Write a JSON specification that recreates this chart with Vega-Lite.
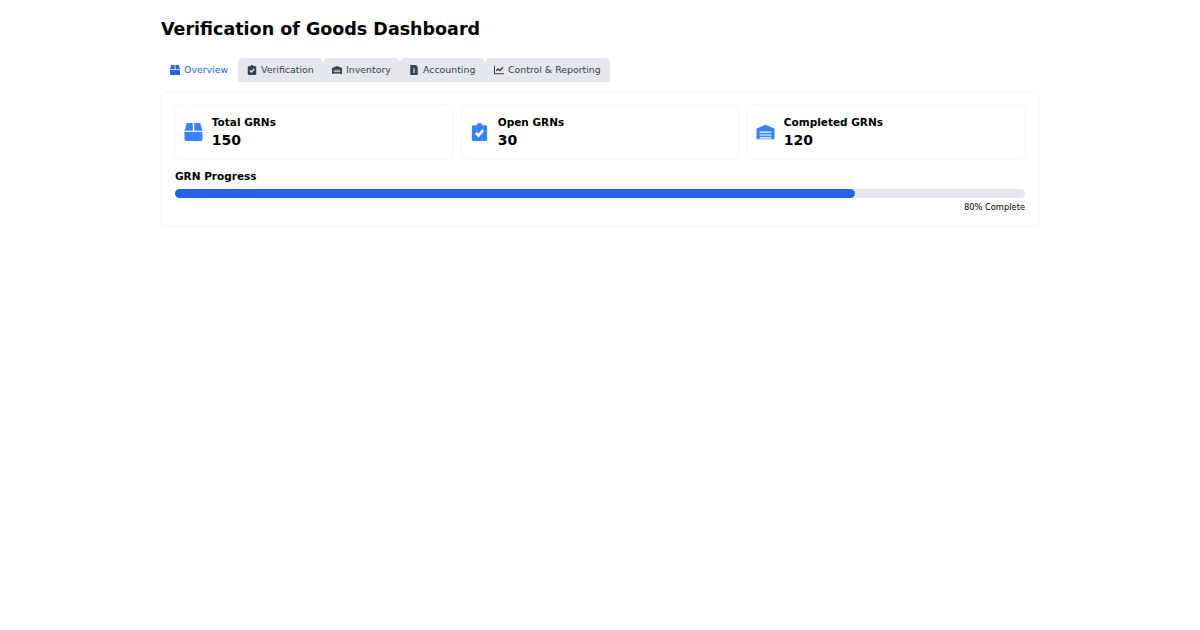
{
  "$schema": "https://vega.github.io/schema/vega-lite/v6.json",
  "width": 1200,
  "height": 630,
  "padding": 0,
  "autosize": {"type": "fit", "contains": "padding"},
  "background": "white",
  "config": {"view": {"stroke": null}, "text": {"font": "DejaVu Sans"}},
  "datasets": {
    "header": [{"title": "Verification of Goods Dashboard", "section": "panel"}],
    "tabs": [
      {"tab": "Overview", "icon": "box", "from": 0, "to": 1, "section": "tabs"},
      {"tab": "Verification", "icon": "clipboard", "from": 1, "to": 2, "section": "tabs"},
      {"tab": "Inventory", "icon": "warehouse", "from": 2, "to": 3, "section": "tabs"},
      {"tab": "Accounting", "icon": "invoice", "from": 3, "to": 4, "section": "tabs"},
      {"tab": "Control & Reporting", "icon": "chart", "from": 4, "to": 5, "section": "tabs"}
    ],
    "cards": [
      {"card": "Total GRNs", "icon": "box", "value": 150, "section": "cards"},
      {"card": "Open GRNs", "icon": "clipboard", "value": 30, "section": "cards"},
      {"card": "Completed GRNs", "icon": "warehouse", "value": 120, "section": "cards"}
    ],
    "progress": [{"label": "GRN Progress", "done": 120, "total": 150, "caption": "80% Complete", "section": "progress"}]
  },
  "resolve": {"scale": {"x": "independent", "y": "independent"}},
  "layer": [
    {
      "data": {"name": "header"},
      "mark": {"type": "text", "align": "left", "fontSize": 17.5, "fontWeight": "bold", "color": "#000000"},
      "encoding": {
        "x": {"field": "title", "type": "nominal", "bandPosition": 0, "axis": null, "scale": {"type": "band", "range": [161, 1039]}},
        "y": {"field": "section", "type": "nominal", "axis": null, "scale": {"type": "band", "range": [20, 40]}},
        "text": {"field": "title", "type": "nominal"}
      }
    },
    {
      "data": {"name": "tabs"},
      "transform": [{"filter": "datum.from >= 1"}],
      "mark": {"type": "rect", "fill": "#e5e7eb", "cornerRadiusTopLeft": 5, "cornerRadiusTopRight": 5},
      "encoding": {
        "x": {"field": "from", "type": "quantitative", "axis": null, "scale": {"domain": [0, 1, 2, 3, 4, 5], "range": [161, 238, 323, 400, 485, 610]}},
        "x2": {"field": "to"},
        "y": {"field": "section", "type": "nominal", "axis": null, "scale": {"type": "band", "range": [58, 82], "paddingInner": 0, "paddingOuter": 0}}
      }
    },
    {
      "data": {"name": "tabs"},
      "mark": {"type": "text", "align": "left", "dx": 23, "fontSize": 9.4},
      "encoding": {
        "x": {"field": "from", "type": "quantitative", "axis": null, "scale": {"domain": [0, 1, 2, 3, 4, 5], "range": [161, 238, 323, 400, 485, 610]}},
        "y": {"field": "section", "type": "nominal", "axis": null, "scale": {"type": "band", "range": [58, 82], "paddingInner": 0, "paddingOuter": 0}},
        "text": {"field": "tab", "type": "nominal"},
        "color": {"condition": {"test": "datum.from == 0", "value": "#2563eb"}, "value": "#374151"}
      }
    },
    {
      "data": {"name": "tabs"},
      "mark": {"type": "point", "filled": true, "opacity": 1, "size": 100, "xOffset": 14},
      "encoding": {
        "x": {"field": "from", "type": "quantitative", "axis": null, "scale": {"domain": [0, 1, 2, 3, 4, 5], "range": [161, 238, 323, 400, 485, 610]}},
        "y": {"field": "section", "type": "nominal", "axis": null, "scale": {"type": "band", "range": [58, 82], "paddingInner": 0, "paddingOuter": 0}},
        "shape": {
          "field": "icon",
          "type": "nominal",
          "legend": null,
          "scale": {
            "domain": ["box", "clipboard", "warehouse", "invoice", "chart"],
            "range": [
              "M-1,-0.15 L-0.75,-1 L-0.08,-1 L-0.08,-0.15 Z M0.08,-1 L0.75,-1 L1,-0.15 L0.08,-0.15 Z M-1,0 L1,0 L1,0.8 Q1,1 0.8,1 L-0.8,1 Q-1,1 -1,0.8 Z",
              "M-0.7,-0.75 L-0.35,-0.75 Q-0.2,-1 0,-1 Q0.2,-1 0.35,-0.75 L0.7,-0.75 Q0.85,-0.75 0.85,-0.6 L0.85,0.85 Q0.85,1 0.7,1 L-0.7,1 Q-0.85,1 -0.85,0.85 L-0.85,-0.6 Q-0.85,-0.75 -0.7,-0.75 Z M-0.5,0.2 L-0.1,0.6 L0.5,-0.1 L0.3,-0.3 L-0.1,0.2 L-0.3,0 Z",
              "M-1,-0.4 L0,-0.8 L1,-0.4 L1,0.8 L-1,0.8 Z M-0.65,-0.05 L-0.65,0.08 L0.65,0.08 L0.65,-0.05 Z M-0.65,0.27 L-0.65,0.4 L0.65,0.4 L0.65,0.27 Z M-0.65,0.59 L-0.65,0.72 L0.65,0.72 L0.65,0.59 Z",
              "M-0.75,-1 L0.35,-1 L0.75,-0.6 L0.75,1 L-0.75,1 Z M-0.12,-0.35 L-0.12,0.6 L0.12,0.6 L0.12,-0.35 Z",
              "M-1,-0.85 L-0.8,-0.85 L-0.8,0.65 L1,0.65 L1,0.85 L-1,0.85 Z M-0.6,0.3 L-0.6,0 L-0.2,-0.4 L0.15,-0.1 L0.7,-0.65 L0.9,-0.45 L0.15,0.3 L-0.2,0 Z"
            ]
          }
        },
        "color": {"condition": {"test": "datum.from == 0", "value": "#2563eb"}, "value": "#374151"}
      }
    },
    {
      "data": {"name": "header"},
      "mark": {"type": "bar", "fill": "white", "stroke": "#f5f6f7", "strokeWidth": 1, "cornerRadius": 6},
      "encoding": {
        "x": {"field": "section", "type": "nominal", "axis": null, "scale": {"type": "band", "range": [161, 1039], "paddingInner": 0, "paddingOuter": 0}},
        "y": {"field": "title", "type": "nominal", "axis": null, "scale": {"type": "band", "range": [92, 226], "paddingInner": 0, "paddingOuter": 0}}
      }
    },
    {
      "data": {"name": "cards"},
      "mark": {"type": "bar", "fill": "white", "stroke": "#f5f6f7", "strokeWidth": 1, "cornerRadius": 6},
      "encoding": {
        "x": {"field": "card", "type": "nominal", "sort": null, "axis": null, "scale": {"type": "band", "range": [175, 1025], "paddingInner": 0.028, "paddingOuter": 0}},
        "y": {"field": "section", "type": "nominal", "axis": null, "scale": {"type": "band", "range": [105, 159], "paddingInner": 0, "paddingOuter": 0}}
      }
    },
    {
      "data": {"name": "cards"},
      "mark": {"type": "point", "filled": true, "opacity": 1, "size": 324, "xOffset": 18.5, "color": "#3b82f6"},
      "encoding": {
        "x": {"field": "card", "type": "nominal", "sort": null, "bandPosition": 0, "axis": null, "scale": {"type": "band", "range": [175, 1025], "paddingInner": 0.028, "paddingOuter": 0}},
        "y": {"field": "section", "type": "nominal", "axis": null, "scale": {"type": "band", "range": [105, 159], "paddingInner": 0, "paddingOuter": 0}},
        "shape": {"field": "icon", "type": "nominal", "legend": null}
      }
    },
    {
      "data": {"name": "cards"},
      "mark": {"type": "text", "align": "left", "dx": 36.8, "fontSize": 10.5, "fontWeight": "bold", "color": "#000000"},
      "encoding": {
        "x": {"field": "card", "type": "nominal", "sort": null, "bandPosition": 0, "axis": null, "scale": {"type": "band", "range": [175, 1025], "paddingInner": 0.028, "paddingOuter": 0}},
        "y": {"field": "section", "type": "nominal", "bandPosition": 0.335, "axis": null, "scale": {"type": "band", "range": [105, 159], "paddingInner": 0, "paddingOuter": 0}},
        "text": {"field": "card", "type": "nominal"}
      }
    },
    {
      "data": {"name": "cards"},
      "mark": {"type": "text", "align": "left", "dx": 36.8, "fontSize": 14, "fontWeight": "bold", "color": "#000000"},
      "encoding": {
        "x": {"field": "card", "type": "nominal", "sort": null, "bandPosition": 0, "axis": null, "scale": {"type": "band", "range": [175, 1025], "paddingInner": 0.028, "paddingOuter": 0}},
        "y": {"field": "section", "type": "nominal", "bandPosition": 0.67, "axis": null, "scale": {"type": "band", "range": [105, 159], "paddingInner": 0, "paddingOuter": 0}},
        "text": {"field": "value", "type": "quantitative"}
      }
    },
    {
      "data": {"name": "progress"},
      "mark": {"type": "text", "align": "left", "fontSize": 10.5, "fontWeight": "bold", "color": "#000000"},
      "encoding": {
        "x": {"field": "label", "type": "nominal", "bandPosition": 0, "axis": null, "scale": {"type": "band", "range": [175, 1025]}},
        "y": {"field": "section", "type": "nominal", "axis": null, "scale": {"type": "band", "range": [171, 183]}},
        "text": {"field": "label", "type": "nominal"}
      }
    },
    {
      "data": {"name": "progress"},
      "mark": {"type": "bar", "fill": "#e5e7eb", "cornerRadius": 4.5},
      "encoding": {
        "x": {"field": "total", "type": "quantitative", "stack": null, "axis": null, "scale": {"domain": [0, 150], "range": [175, 1025]}},
        "y": {"field": "section", "type": "nominal", "axis": null, "scale": {"type": "band", "range": [189, 198], "paddingInner": 0, "paddingOuter": 0}}
      }
    },
    {
      "data": {"name": "progress"},
      "mark": {"type": "bar", "fill": "#2563eb", "cornerRadius": 4.5},
      "encoding": {
        "x": {"field": "done", "type": "quantitative", "stack": null, "axis": null, "scale": {"domain": [0, 150], "range": [175, 1025]}},
        "y": {"field": "section", "type": "nominal", "axis": null, "scale": {"type": "band", "range": [189, 198], "paddingInner": 0, "paddingOuter": 0}}
      }
    },
    {
      "data": {"name": "progress"},
      "mark": {"type": "text", "align": "right", "fontSize": 8.3, "color": "#000000"},
      "encoding": {
        "x": {"field": "total", "type": "quantitative", "axis": null, "scale": {"domain": [0, 150], "range": [175, 1025]}},
        "y": {"field": "section", "type": "nominal", "axis": null, "scale": {"type": "band", "range": [202, 214]}},
        "text": {"field": "caption", "type": "nominal"}
      }
    }
  ]
}
